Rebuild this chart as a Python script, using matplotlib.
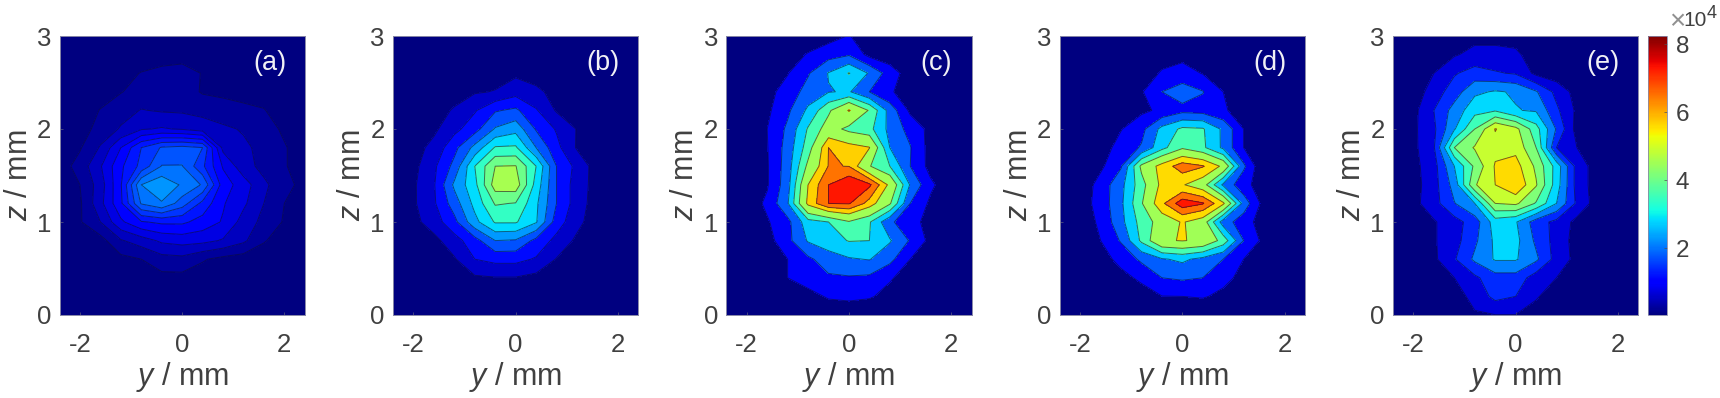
import numpy as np
import matplotlib
matplotlib.use("Agg")
import matplotlib.pyplot as plt
from matplotlib.cm import ScalarMappable
from matplotlib.colors import Normalize

plt.rcParams['font.family'] = ['Liberation Sans', 'DejaVu Sans']
plt.rcParams['mathtext.fontset'] = 'custom'
plt.rcParams['mathtext.rm'] = 'Liberation Sans'
plt.rcParams['mathtext.it'] = 'Liberation Sans:italic'
plt.rcParams['axes.unicode_minus'] = False

y_mm = [-2.4, -2.0, -1.6, -1.2, -0.8, -0.4, 0.0, 0.4, 0.8, 1.2, 1.6, 2.0, 2.4]
z_mm = [3.0, 2.8, 2.6, 2.4, 2.2, 2.0, 1.8, 1.6, 1.4, 1.2, 1.0, 0.8, 0.6, 0.4, 0.2, 0.0]

# contour levels of each panel, x 10^4
levels_a = [0.25, 0.5, 0.75, 1.0, 1.25, 1.5, 1.75, 2.0, 2.25]
levels_b = [0.57, 1.14, 1.71, 2.28, 2.85, 3.42, 3.99, 4.56]
levels_c = [0.9, 1.8, 2.7, 3.6, 4.5, 5.7, 6.5, 7.3]
levels_d = [0.9, 1.8, 2.7, 3.6, 4.5, 5.6, 6.5, 7.3]
levels_e = [0.7, 1.4, 2.1, 2.8, 3.5, 4.2, 4.9, 5.6]

# readings on the measuring grid, expressed in contour-level numbers
grid_a = [
    [0, 0, 0, 0, 0, .05, .05, .05, 0, 0, 0, 0, 0],
    [0, 0, 0, .1, .3, .5, .6, .4, .2, .1, 0, 0, 0],
    [0, 0, .1, .6, 1.05, 1.3, 1.4, .95, .5, .3, .1, 0, 0],
    [0, .1, .5, .95, 1.4, 1.6, 1.5, .9, .8, .7, .6, .3, 0],
    [0, .4, 1.05, 1.6, 2.05, 1.9, 1.85, 1.7, 1.4, 1.2, 1.05, .5, .1],
    [.1, .5, 1.4, 2.1, 2.9, 3.1, 2.9, 2.5, 2.2, 1.9, 1.5, .8, .2],
    [.3, .9, 2.1, 4.0, 6.0, 7.1, 7.3, 7.0, 2.7, 2.2, 1.7, 1.1, .4],
    [.5, 1.4, 2.9, 4.8, 6.3, 8.05, 8.05, 6.2, 3.9, 2.4, 1.7, 1.1, .4],
    [.5, 1.0, 2.5, 4.9, 9.0, 9.8, 8.85, 7.9, 4.5, 3.5, 2.2, 1.4, .6],
    [.3, .85, 2.7, 4.8, 8.1, 8.9, 7.5, 5.7, 4.1, 3.2, 2.0, 1.0, .3],
    [.2, .9, 2.0, 3.8, 4.9, 5.2, 5.2, 4.6, 3.9, 2.6, 1.7, .9, .2],
    [0, .3, .6, 1.9, 2.5, 3.2, 3.4, 3.3, 2.9, 2.2, 1.1, .4, .1],
    [0, .1, .3, .7, 1.0, 1.6, 1.7, 1.1, .7, .5, .3, .1, 0],
    [0, 0, .1, .3, .5, .7, .7, .5, .3, .2, .1, 0, 0],
    [0, 0, 0, .1, .2, .2, .2, .2, .1, .1, 0, 0, 0],
    [0, 0, 0, 0, 0, .05, .05, .05, 0, 0, 0, 0, 0],
]
grid_b = [
    [0, 0, 0, 0, 0, 0, .05, 0, 0, 0, 0, 0, 0],
    [0, 0, 0, 0, .1, .2, .3, .2, .1, 0, 0, 0, 0],
    [0, 0, 0, .2, .4, .6, .8, .6, .3, .1, 0, 0, 0],
    [0, 0, .3, .6, .9, 1.05, 1.6, 1.2, .7, .3, 0, 0, 0],
    [0, .1, .6, 1.1, 1.9, 2.9, 3.2, 2.1, .9, .5, .2, 0, 0],
    [0, .2, .8, 1.7, 2.6, 4.1, 4.65, 2.9, 1.9, .95, .3, 0, 0],
    [0, .6, 1.3, 2.7, 4.3, 6.1, 6.15, 4.0, 2.3, .9, .2, 0, 0],
    [.1, .7, 1.8, 3.3, 6.0, 8.0, 8.05, 6.0, 3.0, 1.7, .5, .1, 0],
    [.1, .85, 1.9, 4.2, 5.7, 8.5, 8.6, 5.6, 3.0, 1.5, .6, .1, 0],
    [.1, .85, 1.85, 3.5, 5.3, 7.1, 6.95, 5.2, 3.0, 1.5, .5, .1, 0],
    [.05, .7, 1.5, 2.7, 4.7, 6.1, 6.1, 5.1, 2.5, 1.3, .4, .1, 0],
    [0, .1, .7, 1.6, 2.6, 4.0, 3.9, 2.7, 1.7, .8, .2, 0, 0],
    [0, 0, .3, .9, 2.0, 2.3, 2.3, 1.9, .95, .4, .1, 0, 0],
    [0, 0, .2, .5, .85, .95, .95, .7, .4, .2, 0, 0, 0],
    [0, 0, 0, .1, .2, .3, .3, .2, .1, 0, 0, 0, 0],
    [0, 0, 0, 0, 0, .05, .05, 0, 0, 0, 0, 0, 0],
]
grid_c = [
    [0, 0, 0, 0, .2, .6, 1.05, .5, 0, 0, 0, 0, 0],
    [0, 0, .1, .4, 1.1, 1.6, 1.9, .7, .4, .1, 0, 0, 0],
    [0, 0, .3, .95, 1.9, 3.05, 4.05, 2.9, 1.5, .5, 0, 0, 0],
    [0, 0, .7, 1.4, 2.4, 2.95, 3.1, 2.0, 1.1, .6, .1, 0, 0],
    [0, .3, .8, 1.8, 3.2, 4.8, 6.1, 4.9, 2.6, .8, .3, 0, 0],
    [0, .4, 1.0, 2.2, 4.1, 5.4, 4.7, 4.3, 2.7, 1.65, .7, .1, 0],
    [0, .5, .95, 2.4, 4.5, 7.0, 6.5, 6.05, 3.0, 2.05, .6, .1, 0],
    [0, .5, .9, 2.5, 5.2, 7.05, 6.98, 5.05, 4.0, 2.0, .65, .1, 0],
    [0, .5, .9, 2.6, 6.0, 8.0, 8.9, 8.2, 5.8, 2.9, 1.2, .3, 0],
    [0, .4, 1.2, 2.9, 6.3, 8.0, 8.1, 6.6, 5.1, 2.0, .8, .2, 0],
    [0, .2, .9, 1.7, 3.6, 4.0, 4.9, 4.1, 2.2, 1.3, .7, .1, 0],
    [0, .2, .6, 1.7, 3.1, 3.6, 4.05, 4.0, 3.1, 1.9, .7, .1, 0],
    [0, .1, .3, 1.0, 1.8, 2.5, 2.9, 3.05, 2.3, 1.0, .3, 0, 0],
    [0, 0, .3, 1.0, 1.4, 1.85, 1.9, 1.8, 1.1, .6, .1, 0, 0],
    [0, 0, .1, .4, .7, 1.1, 1.2, 1.1, .7, .3, 0, 0, 0],
    [0, 0, 0, 0, .1, .4, .4, .3, .1, 0, 0, 0, 0],
]
grid_d = [
    [0, 0, 0, 0, 0, .1, .1, 0, 0, 0, 0, 0, 0],
    [0, 0, 0, 0, .1, .6, .7, .3, .1, 0, 0, 0, 0],
    [0, 0, 0, .1, .5, 1.1, 1.4, .95, .4, .1, 0, 0, 0],
    [0, 0, 0, .3, .9, 2.0, 2.5, 2.05, 1.0, .4, 0, 0, 0],
    [0, 0, .1, .4, .8, 1.2, 1.7, 1.6, 1.15, .5, .1, 0, 0],
    [0, .1, .3, .95, 1.7, 3.3, 4.2, 4.1, 2.8, 1.0, .3, 0, 0],
    [0, .1, .5, 1.4, 2.1, 3.7, 4.85, 4.2, 2.8, 1.0, .3, 0, 0],
    [0, .2, .8, 1.9, 5.2, 6.4, 7.6, 7.1, 5.8, 2.2, .05, .05, 0],
    [0, .3, 1.4, 2.7, 4.6, 6.3, 6.1, 5.4, 2.8, 1.3, .5, .1, 0],
    [0, .5, 1.4, 2.8, 4.9, 6.8, 8.6, 8.1, 6.2, 2.6, .6, .1, 0],
    [0, .4, 1.2, 2.7, 4.4, 5.4, 6.1, 5.5, 2.5, 1.45, .5, .1, 0],
    [0, .3, 1.0, 2.1, 4.2, 5.9, 6.05, 5.85, 4.6, 2.0, .7, .1, 0],
    [0, .1, .6, 1.3, 2.2, 2.9, 3.2, 2.7, 2.0, 1.0, .3, 0, 0],
    [0, 0, .2, .7, 1.2, 2.0, 2.15, 2.0, 1.3, .7, .2, 0, 0],
    [0, 0, 0, .2, .55, .98, 1.0, 1.1, .75, .3, 0, 0, 0],
    [0, 0, 0, 0, 0, .1, .1, .1, 0, 0, 0, 0, 0],
]
grid_e = [
    [0, 0, 0, 0, .7, .7, .7, .2, 0, 0, 0, 0, 0],
    [0, 0, .4, .9, 1.3, 1.3, 1.15, .6, .3, 0, 0, 0, 0],
    [0, .2, 1.0, 1.9, 2.4, 2.1, 1.9, .75, .4, .1, 0, 0, 0],
    [0, .4, 1.5, 2.5, 3.8, 4.1, 3.9, 3.1, 1.7, .6, .2, 0, 0],
    [.1, .7, 2.0, 3.4, 4.65, 4.9, 4.05, 3.9, 2.2, .8, .2, 0, 0],
    [.3, .8, 1.8, 3.9, 6.0, 8.05, 7.3, 5.4, 2.9, .6, .3, 0, 0],
    [.2, .75, 1.9, 6.0, 7.1, 7.7, 7.7, 6.0, 2.0, 1.0, .4, .1, 0],
    [.1, .7, 1.6, 4.0, 6.2, 8.1, 8.4, 6.8, 4.6, 1.6, .5, .1, 0],
    [.2, .6, 1.6, 3.4, 6.9, 8.0, 8.9, 7.1, 4.5, 1.6, .5, .1, 0],
    [.3, .7, 1.6, 2.95, 4.0, 7.0, 7.2, 5.9, 4.0, 1.8, .5, .1, 0],
    [0, .3, .9, 1.6, 2.5, 4.5, 4.1, 2.5, 1.7, .7, .1, 0, 0],
    [0, .2, .9, 1.6, 2.8, 4.2, 4.3, 2.8, 1.6, .6, .1, 0, 0],
    [0, .1, .8, 1.9, 3.2, 4.1, 4.1, 3.2, 1.6, .7, .1, 0, 0],
    [0, 0, .4, 1.0, 1.8, 2.6, 2.6, 1.5, 1.0, .4, 0, 0, 0],
    [0, 0, 0, .6, 1.3, 2.3, 2.0, 1.1, .5, .1, 0, 0, 0],
    [0, 0, 0, .3, .9, .98, .98, .6, .2, 0, 0, 0, 0],
]

panels = [('(a)', grid_a, levels_a, 59.5), ('(b)', grid_b, levels_b, 393.0),
          ('(c)', grid_c, levels_c, 726.3), ('(d)', grid_d, levels_d, 1059.7),
          ('(e)', grid_e, levels_e, 1393.0)]
x_ticks = [-2, 0, 2]
z_ticks = [0, 1, 2, 3]
cbar_ticks = [2, 4, 6, 8]
vmin, vmax = 0.03, 8.25

W, H = 1720, 398
TOP, BOTTOM, AXW = 36, 315, 245.3
TXT = '#404040'
cmap = plt.get_cmap('jet')
norm = Normalize(vmin, vmax)
fig = plt.figure(figsize=(W / 100, H / 100), dpi=100)
Y, Z = np.meshgrid(y_mm, z_mm)

for label, grid, levels, left in panels:
    ax = fig.add_axes([left / W, 1 - BOTTOM / H, AXW / W, (BOTTOM - TOP) / H])
    step = levels[-1] - levels[-2]
    nums = np.arange(len(levels) + 2)
    vals = np.interp(np.asarray(grid, float), nums, [0] + levels + [levels[-1] + step])
    ax.set_facecolor(cmap(0.0))
    bounds = [-1] + levels + [100]
    fills = [cmap(norm(v)) for v in [vmin] + levels]
    ax.contourf(Y, Z, vals, levels=bounds, colors=fills)
    ax.contour(Y, Z, vals, levels=levels, colors='#101030', linewidths=0.7, alpha=0.6)
    ax.set_xlim(-2.4, 2.4)
    ax.set_ylim(0, 3)
    ax.set_xticks(x_ticks)
    ax.set_yticks(z_ticks)
    ax.tick_params(direction='in', length=2.5, width=0.5, color='#606080',
                   labelsize=18.5, labelcolor=TXT)
    ax.tick_params(axis='x', pad=13)
    ax.tick_params(axis='y', pad=6)
    for s in ax.spines.values():
        s.set_color('#8888a8')
        s.set_linewidth(0.7)
    ax.set_xlabel(r'$\mathit{y}$ / mm', fontsize=22, color=TXT)
    ax.set_ylabel(r'$\mathit{z}$ / mm', fontsize=22, color=TXT)
    ax.xaxis.set_label_coords(0.5, -0.222)
    ax.yaxis.set_label_coords(-0.167, 0.5)
    ax.xaxis.label.set_va('center')
    ax.yaxis.label.set_va('center')
    ax.text(0.856, 0.904, label, transform=ax.transAxes, color='#f0f0f5',
            fontsize=19.5, ha='center', va='center')

cax = fig.add_axes([1647.7 / W, 1 - BOTTOM / H, 19.6 / W, (BOTTOM - TOP) / H])
cb = fig.colorbar(ScalarMappable(norm=norm, cmap=cmap), cax=cax, ticks=cbar_ticks)
cb.ax.tick_params(direction='in', length=2.5, width=0.5, color='#505050',
                  labelsize=17.5, labelcolor=TXT, pad=6)
cb.outline.set_edgecolor('#8888a8')
cb.outline.set_linewidth(0.6)
fig.text(1677 / W, 1 - 22 / H, '\u00d7', color='#909090', fontsize=20, ha='center', va='center')
fig.text(1695 / W, 1 - 20 / H, '10', color=TXT, fontsize=15, ha='center', va='center')
fig.text(1712 / W, 1 - 13 / H, '4', color=TXT, fontsize=13, ha='center', va='center')

fig.savefig('out.png', dpi=100)
